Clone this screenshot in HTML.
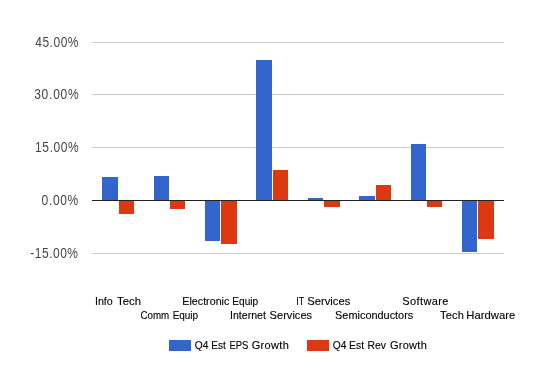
<!DOCTYPE html>
<html><head><meta charset="utf-8">
<style>
html,body{margin:0;padding:0;background:#fff;width:556px;height:370px;overflow:hidden}
svg{display:block;will-change:transform}
text{font-family:"Liberation Sans",sans-serif}
</style></head>
<body>
<svg width="556" height="370" viewBox="0 0 556 370" >
<rect x="0" y="0" width="556" height="370" fill="#ffffff"/>
<g fill="#cccccc">
<rect x="92" y="42" width="412" height="1"/>
<rect x="92" y="94" width="412" height="1"/>
<rect x="92" y="147" width="412" height="1"/>
<rect x="92" y="253" width="412" height="1"/>
</g>
<g fill="#3366cc"><rect x="102" y="177" width="16" height="23"/><rect x="154" y="176" width="15" height="24"/><rect x="205" y="200" width="15" height="41"/><rect x="256" y="60" width="16" height="140"/><rect x="308" y="198" width="15" height="2"/><rect x="359" y="196" width="16" height="4"/><rect x="411" y="144" width="15" height="56"/><rect x="462" y="200" width="15" height="52"/></g>
<g fill="#dc3912"><rect x="119" y="200" width="15" height="14"/><rect x="170" y="200" width="15" height="9"/><rect x="221" y="200" width="16" height="44"/><rect x="273" y="170" width="15" height="30"/><rect x="324" y="200" width="16" height="7"/><rect x="376" y="185" width="15" height="15"/><rect x="427" y="200" width="15" height="7"/><rect x="478" y="200" width="16" height="39"/></g>
<rect x="92" y="200" width="412" height="1" fill="#222222"/>
<text x="35.23" y="0" transform="translate(0 47.00) scale(1 1.180)" font-size="12" fill="#444444" textLength="43.30" lengthAdjust="spacing">45.00%</text>
<text x="34.14" y="0" transform="translate(0 99.00) scale(1 1.180)" font-size="12" fill="#444444" textLength="44.59" lengthAdjust="spacing">30.00%</text>
<text x="35.12" y="0" transform="translate(0 152.00) scale(1 1.180)" font-size="12" fill="#444444" textLength="43.64" lengthAdjust="spacing">15.00%</text>
<text x="41.55" y="0" transform="translate(0 205.00) scale(1 1.180)" font-size="12" fill="#444444" textLength="36.72" lengthAdjust="spacing">0.00%</text>
<text x="30.32" y="0" transform="translate(0 258.00) scale(1 1.180)" font-size="12" fill="#444444" textLength="47.65" lengthAdjust="spacing">-15.00%</text>
<text x="94.94" y="305.00" font-size="11" fill="#000000" stroke="#000000" stroke-width="0.12" textLength="17.85" lengthAdjust="spacingAndGlyphs">Info</text>
<text x="117.10" y="305.00" font-size="11" fill="#000000" stroke="#000000" stroke-width="0.12" textLength="23.84" lengthAdjust="spacingAndGlyphs">Tech</text>
<text x="140.53" y="319.00" font-size="11" fill="#000000" stroke="#000000" stroke-width="0.12" textLength="28.72" lengthAdjust="spacingAndGlyphs">Comm</text>
<text x="172.64" y="319.00" font-size="11" fill="#000000" stroke="#000000" stroke-width="0.12" textLength="25.51" lengthAdjust="spacingAndGlyphs">Equip</text>
<text x="182.30" y="305.00" font-size="11" fill="#000000" stroke="#000000" stroke-width="0.12" textLength="47.02" lengthAdjust="spacingAndGlyphs">Electronic</text>
<text x="232.35" y="305.00" font-size="11" fill="#000000" stroke="#000000" stroke-width="0.12" textLength="25.84" lengthAdjust="spacingAndGlyphs">Equip</text>
<text x="230.05" y="319.00" font-size="11" fill="#000000" stroke="#000000" stroke-width="0.12" textLength="35.85" lengthAdjust="spacingAndGlyphs">Internet</text>
<text x="269.61" y="319.00" font-size="11" fill="#000000" stroke="#000000" stroke-width="0.12" textLength="42.52" lengthAdjust="spacingAndGlyphs">Services</text>
<text x="296.22" y="305.00" font-size="11" fill="#000000" stroke="#000000" stroke-width="0.12" textLength="7.95" lengthAdjust="spacingAndGlyphs">IT</text>
<text x="307.32" y="305.00" font-size="11" fill="#000000" stroke="#000000" stroke-width="0.12" textLength="42.99" lengthAdjust="spacingAndGlyphs">Services</text>
<text x="335.10" y="319.00" font-size="11" fill="#000000" stroke="#000000" stroke-width="0.12" textLength="78.16" lengthAdjust="spacingAndGlyphs">Semiconductors</text>
<text x="402.34" y="305.00" font-size="11" fill="#000000" stroke="#000000" stroke-width="0.12" textLength="46.00" lengthAdjust="spacing">Software</text>
<text x="440.05" y="319.00" font-size="11" fill="#000000" stroke="#000000" stroke-width="0.12" textLength="23.78" lengthAdjust="spacing">Tech</text>
<text x="466.35" y="319.00" font-size="11" fill="#000000" stroke="#000000" stroke-width="0.12" textLength="48.82" lengthAdjust="spacingAndGlyphs">Hardware</text>
<text x="194.77" y="349.00" font-size="11" fill="#000000" stroke="#000000" stroke-width="0.12" textLength="13.62" lengthAdjust="spacingAndGlyphs">Q4</text>
<text x="211.22" y="349.00" font-size="11" fill="#000000" stroke="#000000" stroke-width="0.12" textLength="14.49" lengthAdjust="spacingAndGlyphs">Est</text>
<text x="229.39" y="349.00" font-size="11" fill="#000000" stroke="#000000" stroke-width="0.12" textLength="18.96" lengthAdjust="spacingAndGlyphs">EPS</text>
<text x="251.66" y="349.00" font-size="11" fill="#000000" stroke="#000000" stroke-width="0.12" textLength="37.11" lengthAdjust="spacing">Growth</text>
<text x="332.77" y="349.00" font-size="11" fill="#000000" stroke="#000000" stroke-width="0.12" textLength="13.62" lengthAdjust="spacingAndGlyphs">Q4</text>
<text x="349.08" y="349.00" font-size="11" fill="#000000" stroke="#000000" stroke-width="0.12" textLength="14.95" lengthAdjust="spacingAndGlyphs">Est</text>
<text x="367.40" y="349.00" font-size="11" fill="#000000" stroke="#000000" stroke-width="0.12" textLength="18.52" lengthAdjust="spacingAndGlyphs">Rev</text>
<text x="389.98" y="349.00" font-size="11" fill="#000000" stroke="#000000" stroke-width="0.12" textLength="36.79" lengthAdjust="spacing">Growth</text>
<rect x="169" y="340" width="22" height="11" fill="#3366cc"/>
<rect x="307" y="340" width="22" height="11" fill="#dc3912"/>
</svg>
</body></html>
